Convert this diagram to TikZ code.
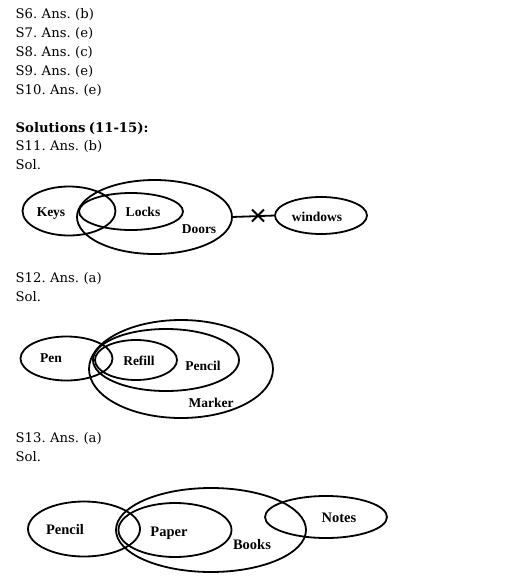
\documentclass[tikz,border=0pt]{standalone}
\usepackage{fontspec}
\setmainfont{DejaVu Serif}[WordSpace=0.72]
\newfontfamily\labelfont{Liberation Serif}
\usetikzlibrary{shapes.geometric}
\tikzset{
  txt/.style={anchor=base west, inner sep=0pt, font=\fontsize{13.2}{15}\selectfont},
  btxt/.style={txt, font=\fontsize{13.2}{15}\selectfont\bfseries},
  set/.style={draw, ellipse, line width=1.8pt, inner sep=0pt, outer sep=0pt},
  lab/.style={anchor=base, inner sep=0pt, font=\labelfont\bfseries\fontsize{13.5}{15}\selectfont},
  labb/.style={anchor=base, inner sep=0pt, font=\labelfont\bfseries\fontsize{14.5}{16}\selectfont},
  conn/.style={line width=1.8pt},
}
\begin{document}
\begin{tikzpicture}[x=1pt,y=-1pt]
\useasboundingbox (0,0) rectangle (524,576);
\fill[white] (0,0) rectangle (524,576);
% text lines
\node[txt] (t6) at (15.5,18) {S6. Ans. (b)};
\node[txt] (t7) at (15.5,37) {S7. Ans. (e)};
\node[txt] (t8) at (15.5,56) {S8. Ans. (c)};
\node[txt] (t9) at (15.5,75) {S9. Ans. (e)};
\node[txt] (t10) at (15.5,94) {S10. Ans. (e)};
\node[btxt] (sol) at (15.5,132) {Solutions (11-15):};
\node[txt] (t11) at (15.5,150.5) {S11. Ans. (b)};
\node[txt] (s11) at (15.5,169.5) {Sol.};
\node[txt] (t12) at (15.5,282) {S12. Ans. (a)};
\node[txt] (s12) at (15.5,301) {Sol.};
\node[txt] (t13) at (15.5,442.5) {S13. Ans. (a)};
\node[txt] (s13) at (15.5,461.5) {Sol.};
% diagram 1
\node[set, minimum width=93pt, minimum height=49pt] (keys) at (69,211) {};
\node[set, minimum width=155pt, minimum height=74pt] (doors) at (154.5,217) {};
\node[set, minimum width=104pt, minimum height=37pt] (locks) at (131,211.5) {};
\node[set, minimum width=92pt, minimum height=37pt] (windows) at (321,215.5) {};
\node[lab] (lkeys) at (51,216) {Keys};
\node[lab] (llocks) at (143,216) {Locks};
\node[lab] (ldoors) at (199,233) {Doors};
\node[lab] (lwin) at (317,221) {windows};
\draw[conn] (doors.east) -- (windows.west);
\coordinate (cross) at (258,215.5);
\draw[conn] ([shift={(-6,-6)}]cross) -- ([shift={(6,6)}]cross);
\draw[conn] ([shift={(-6,6)}]cross) -- ([shift={(6,-6)}]cross);
% diagram 2
\node[set, minimum width=92pt, minimum height=44pt] (pen) at (66.5,358.5) {};
\node[set, minimum width=184pt, minimum height=98pt] (marker) at (181,369) {};
\node[set, minimum width=146pt, minimum height=62pt] (pencil) at (166,360) {};
\node[set, minimum width=82pt, minimum height=40pt] (refill) at (136,360) {};
\node[lab] (lpen) at (51,362) {Pen};
\node[lab] (lrefill) at (139,365) {Refill};
\node[lab] (lpencil) at (203,370) {Pencil};
\node[lab] (lmarker) at (211,407) {Marker};
% diagram 3
\node[set, minimum width=112pt, minimum height=55pt] (pencilb) at (84,529) {};
\node[set, minimum width=190pt, minimum height=84pt] (books) at (211,530) {};
\node[set, minimum width=113pt, minimum height=54pt] (paper) at (175,530) {};
\node[set, minimum width=122pt, minimum height=42pt] (notes) at (326,517) {};
\node[labb] (lpencilb) at (65,534) {Pencil};
\node[labb] (lpaper) at (169,536) {Paper};
\node[labb] (lbooks) at (252,549) {Books};
\node[labb] (lnotes) at (339,522) {Notes};
\end{tikzpicture}
\end{document}
